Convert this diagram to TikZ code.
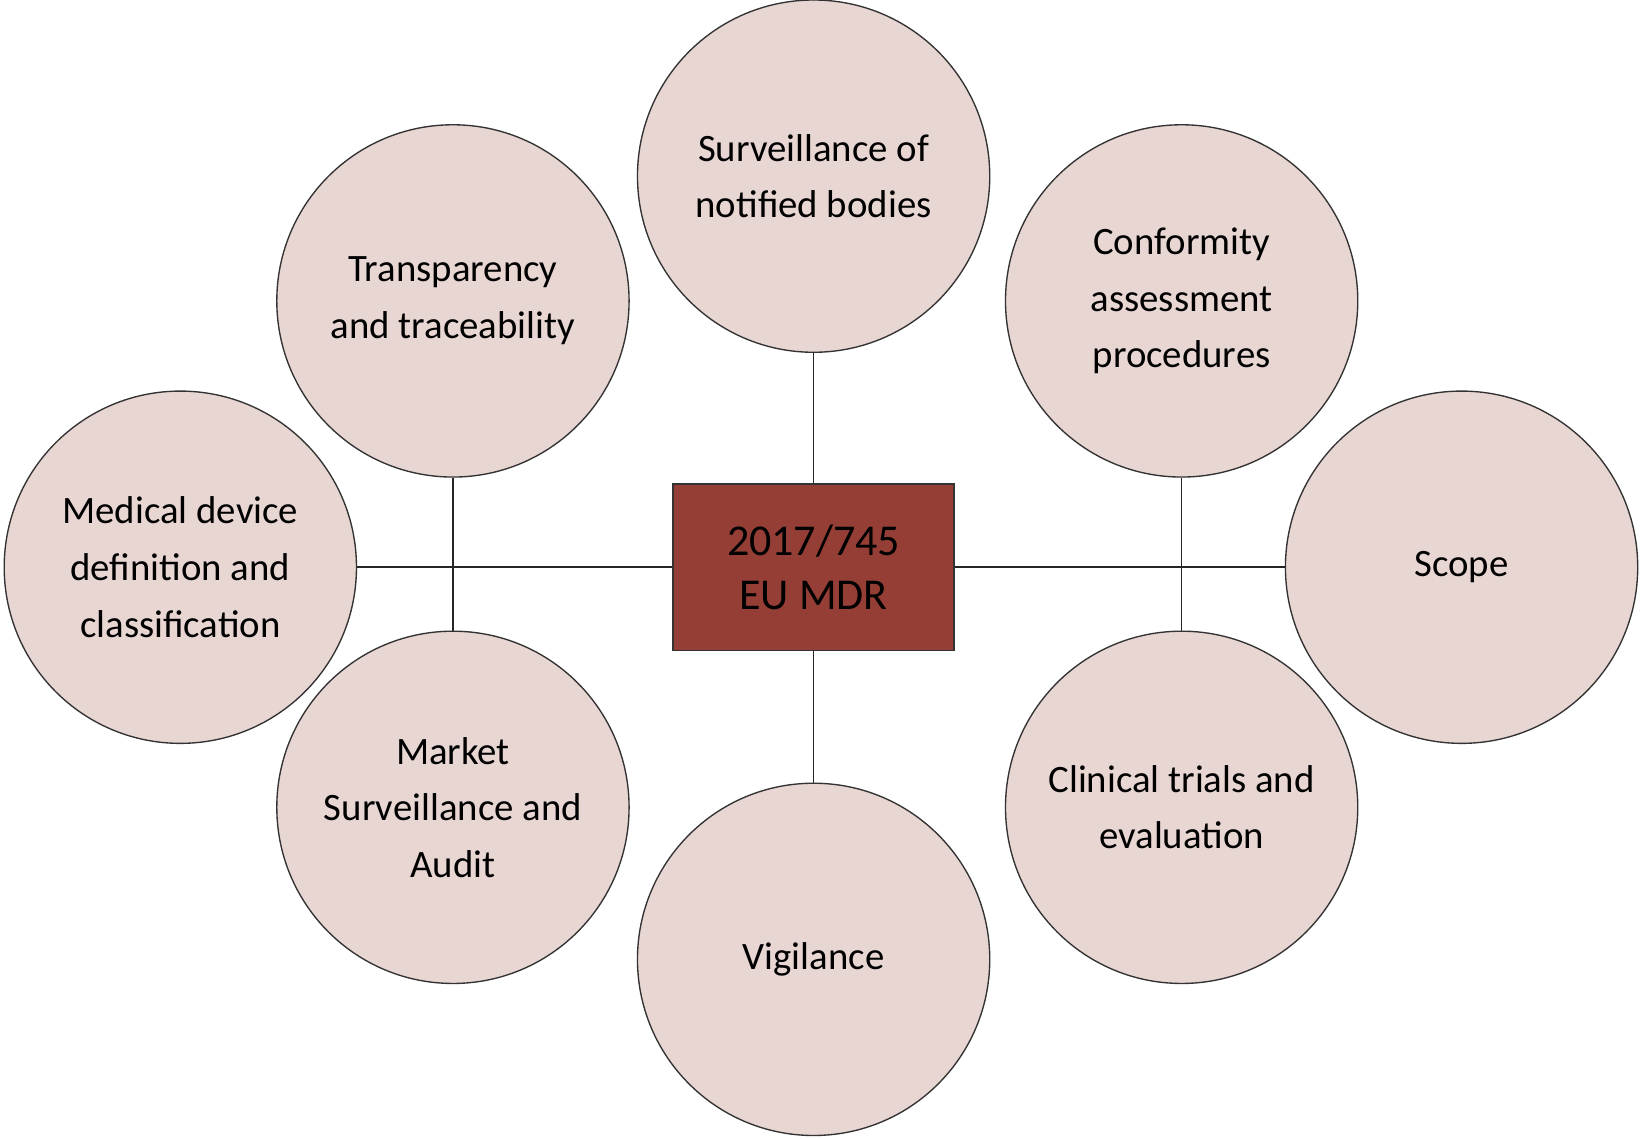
\documentclass[tikz,border=0pt]{standalone}
\usepackage{fontspec}
\setmainfont{Carlito}
\definecolor{cfill}{HTML}{E8D6D3}
\definecolor{bfill}{HTML}{943E36}
\begin{document}
\begin{tikzpicture}[x=1pt,y=-1pt,
  circ/.style={circle,draw=black!80,line width=1.3pt,fill=cfill,minimum size=336pt,inner sep=0pt,align=center,font=\fontsize{37}{54}\selectfont},
  hub/.style={rectangle,draw=black!80,line width=1.3pt,fill=bfill,minimum width=268pt,minimum height=159pt,align=center,font=\fontsize{42}{52}\selectfont},
  ln/.style={line width=1.5pt,black!85}]
\useasboundingbox (0,0) rectangle (1568,1086);
\node[hub] (c) at (776,541) {2017/745\\EU MDR};
\node[circ] (t) at (776,168) {Surveillance of\\notified bodies};
\node[circ] (tr) at (432,287) {Transparency\\and traceability};
\node[circ] (co) at (1127,287) {Conformity\\assessment\\procedures};
\node[circ] (md) at (172,541) {Medical device\\definition and\\classification};
\node[circ] (sc) at (1394,541) {Scope};
\node[circ] (ma) at (432,770) {Market\\Surveillance and\\Audit};
\node[circ] (cl) at (1127,770) {Clinical trials and\\evaluation};
\node[circ] (vi) at (776,915) {Vigilance};
\draw[ln] (md.east) -- (c.west);
\draw[ln] (c.east) -- (sc.west);
\draw[ln] (t.south) -- (c.north);
\draw[ln] (c.south) -- (vi.north);
\draw[ln] (tr.south) -- (ma.north);
\draw[ln] (co.south) -- (cl.north);
\end{tikzpicture}
\end{document}
